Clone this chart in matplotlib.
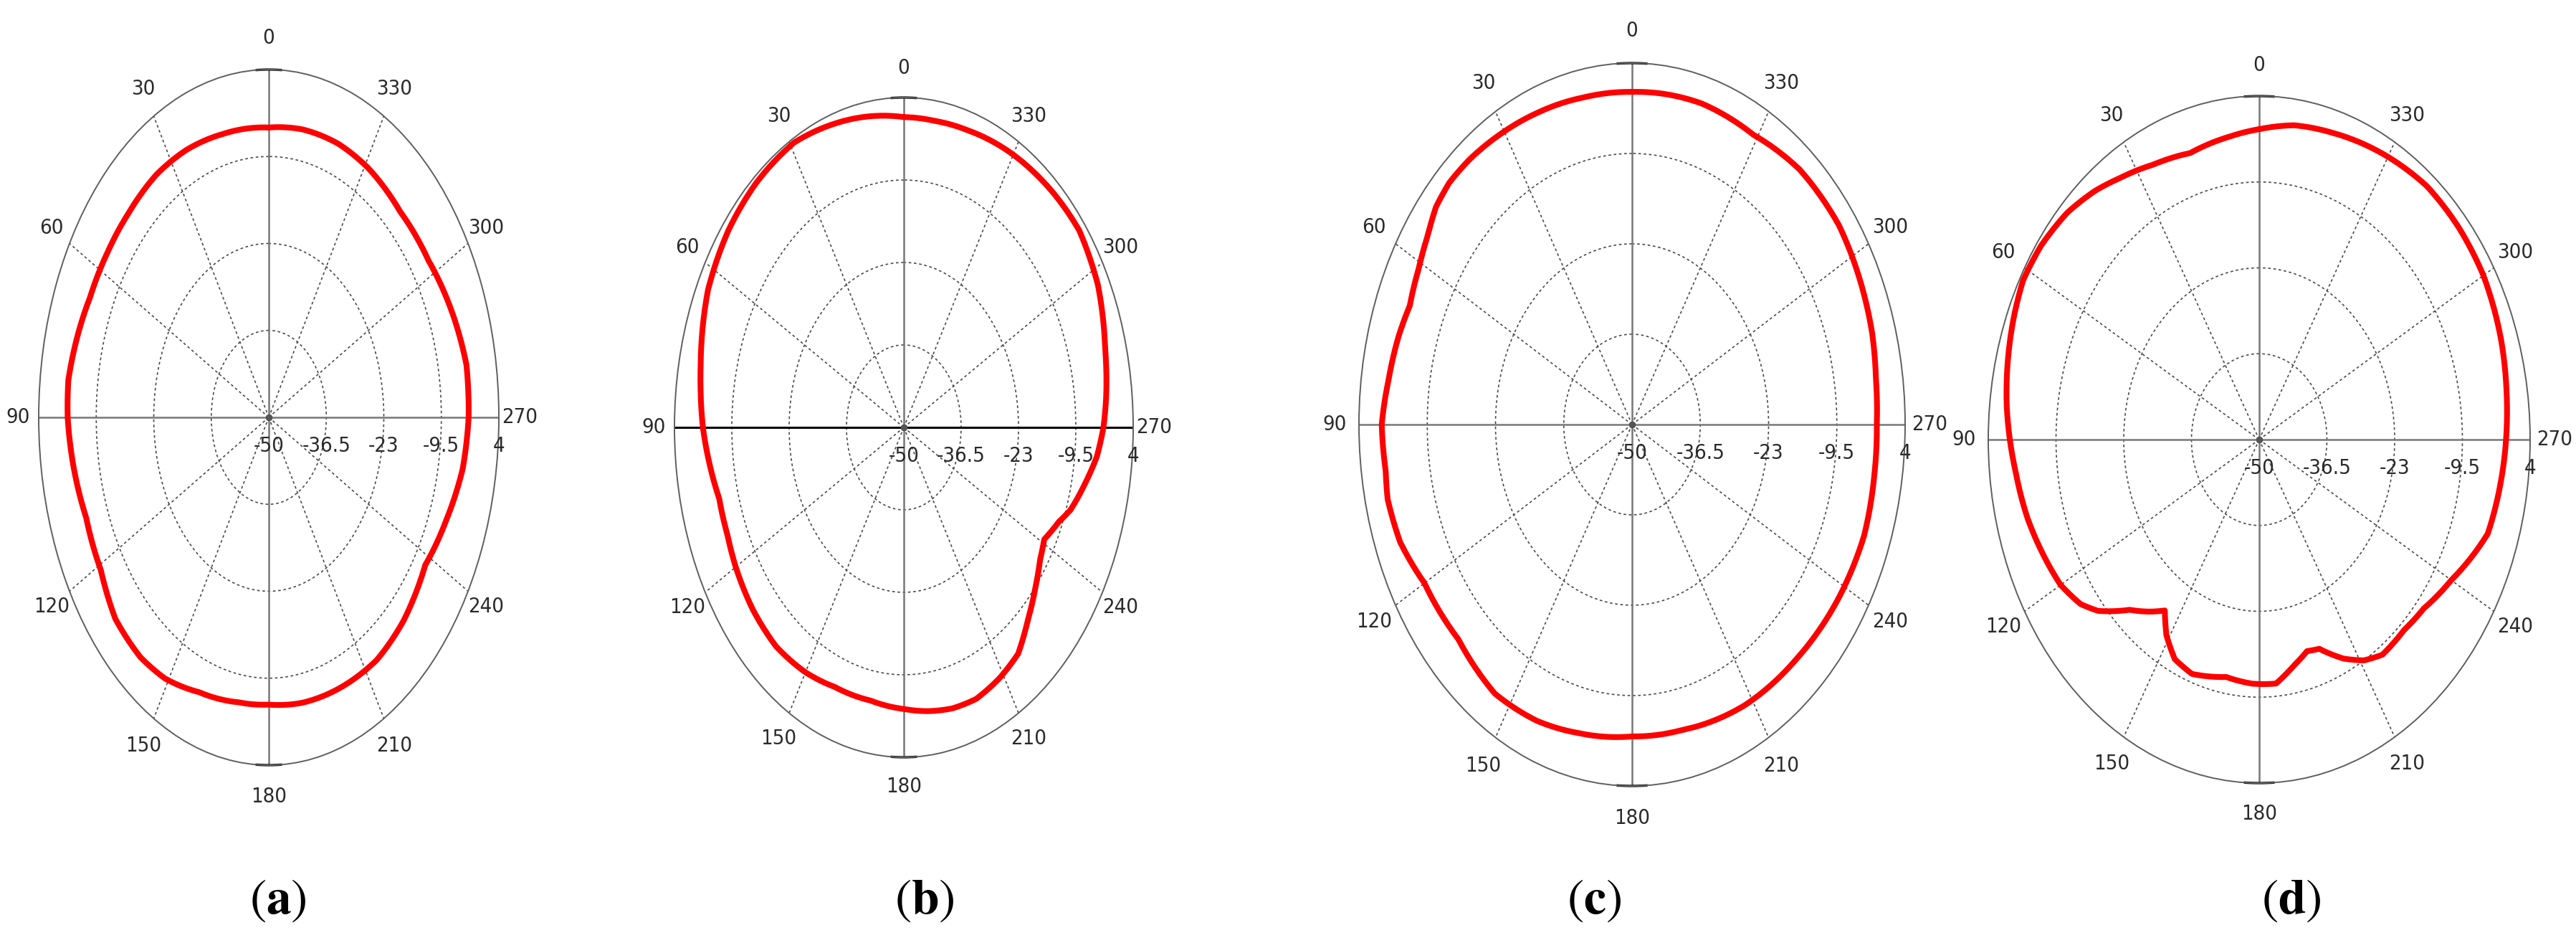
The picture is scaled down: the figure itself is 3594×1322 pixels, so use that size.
import numpy as np
import matplotlib
matplotlib.use('Agg')
import matplotlib.pyplot as plt
from matplotlib import font_manager

W, H, DPI = 3594, 1322, 100

# ---------------------------------------------------------------------------
# Data (gain in dB)
# ---------------------------------------------------------------------------
ANGLE_TICKS = [0, 30, 60, 90, 120, 150, 180, 210, 240, 270, 300, 330]
RING_VALUES = [-36.5, -23, -9.5]
R_MIN, R_MAX = -50, 4
R_TICKS = [-50, -36.5, -23, -9.5, 4]
R_LABELS = ['-50', '-36.5', '-23', '-9.5', '4']
PANEL_TAGS = ['a', 'b', 'c', 'd']

ANG_A = [0, 14, 25, 35, 46, 56, 66, 75, 83, 90, 99, 110, 121, 131, 141, 149,
         159, 171, 180, 190, 201, 214, 225, 238, 249, 260, 270, 280, 289, 303,
         316, 329, 339, 350]
GAIN_A = [-5.0, -4.7, -4.2, -4.0, -4.3, -4.3, -4.1, -3.3, -2.6, -2.8, -3.5,
          -4.4, -4.0, -2.3, -2.1, -2.7, -4.3, -5.2, -5.4, -5.0, -4.8, -4.6,
          -5.3, -6.7, -5.4, -3.8, -3.1, -2.9, -3.8, -5.3, -5.6, -4.8, -4.5,
          -4.6]

ANG_B = [0, 19, 29, 41, 52, 64, 78, 83, 90, 97, 105, 113, 120, 130, 140, 150,
         159, 170, 180, 187, 194, 201, 209, 216, 223, 230, 236, 241, 247, 251,
         258, 264, 270, 276, 285, 297, 308, 317, 331, 343, 352]
GAIN_B = [0.8, 2.4, 3.3, 3.0, 2.4, 1.3, -1.1, -1.8, -2.7, -3.8, -5.0, -4.9,
          -4.3, -3.6, -3.2, -3.7, -4.5, -4.6, -3.9, -3.2, -2.6, -2.4, -3.2,
          -4.2, -7.1, -9.5, -11.3, -12.2, -10.4, -8.5, -6.3, -4.3, -3.0, -2.1,
          -0.9, 1.3, 2.4, 2.1, 1.5, 0.9, 0.7]

ANG_C = [0, 11, 22, 31, 39, 45, 50, 55, 61, 68, 74, 82, 90, 98, 103, 111, 120,
         133, 146, 157, 167, 180, 192, 208, 223, 238, 250, 261, 270, 278, 286,
         296, 306, 319, 331, 344, 353]
GAIN_C = [-0.3, -0.2, 0.2, 0.6, 1.0, 1.1, 0.6, -0.7, -1.8, -2.6, -2.0, -1.4,
          -0.5, -0.8, -0.4, -0.9, -2.6, -3.0, -1.5, -1.9, -2.7, -3.4, -3.3,
          -2.5, -2.2, -1.6, -1.2, -1.5, -1.6, -1.3, -0.6, 0.0, 0.6, 0.5, -0.5,
          -0.1, -0.2]

ANG_D = [0, 7, 17, 26, 34, 40, 47, 55, 62, 69, 77, 84, 90, 96, 105, 112, 120,
         126, 130, 136, 141, 145, 149, 154, 160, 170, 178, 185, 191, 196, 200,
         206, 211, 216, 224, 231, 240, 252, 262, 270, 279, 288, 300, 310, 320,
         329, 343, 352]
GAIN_D = [-1.2, -2.0, -2.9, -1.9, -0.4, 1.0, 2.3, 3.1, 3.3, 2.5, 1.5, 0.6,
          -0.3, -1.2, -2.2, -3.2, -4.3, -6.0, -8.1, -12.8, -15.2, -17.2, -14.1,
          -11.6, -10.8, -12.1, -11.6, -11.5, -13.8, -15.4, -15.0, -11.7, -9.5,
          -8.2, -8.4, -7.8, -5.8, -2.1, -1.4, -0.8, -0.1, 0.7, 1.6, 1.9, 2.0,
          1.4, 0.4, -0.1]

SERIES = [(ANG_A, GAIN_A), (ANG_B, GAIN_B), (ANG_C, GAIN_C), (ANG_D, GAIN_D)]

# ---------------------------------------------------------------------------
# Layout (pixel boxes of each elliptical plot, caption centres)
# ---------------------------------------------------------------------------
BOXES = [(54, 97, 696, 1067), (941, 136, 1581, 1056),
         (1896, 88, 2658, 1096), (2774, 134, 3530, 1092)]
CAPTION_X = [388, 1290, 2224, 3197]
CAPTION_Y = 1254

names = {f.name for f in font_manager.fontManager.ttflist}
TICK_FONT = 'Liberation Sans Narrow' if 'Liberation Sans Narrow' in names else 'DejaVu Sans'
plt.rcParams['mathtext.fontset'] = 'stix'

GRID_COL = '#4a4a4a'
AXIS_COL = '#777777'
DASH = (0, (2.2, 2.2))
TXT = dict(fontsize=21, color='#2a2a2a', family=TICK_FONT,
           fontstretch='condensed', ha='center', va='center')

fig = plt.figure(figsize=(W / DPI, H / DPI), dpi=DPI)
full = np.linspace(0, 2 * np.pi, 400)

for i, (ang, gain) in enumerate(SERIES):
    x0, y0, x1, y1 = BOXES[i]
    ax = fig.add_axes([x0 / W, 1 - y1 / H, (x1 - x0) / W, (y1 - y0) / H],
                      projection='polar')
    ax.set_aspect('auto')
    ax.set_theta_zero_location('N')
    ax.set_theta_direction(1)
    ax.set_ylim(R_MIN, R_MAX)
    ax.set_xticks([])
    ax.set_yticks([])
    ax.grid(False)
    ax.spines['polar'].set_color('#5e5e5e')
    ax.spines['polar'].set_linewidth(1.4)

    # dashed rings and spokes
    for rv in RING_VALUES:
        ax.plot(full, np.full_like(full, rv), color=GRID_COL, lw=1.2, ls=DASH)
    for a in ANGLE_TICKS:
        t = np.deg2rad(a)
        if a % 90:
            ax.plot([t, t], [R_MIN, R_MAX], color=GRID_COL, lw=1.2, ls=DASH)
    # solid cross
    for a in (0, 180):
        t = np.deg2rad(a)
        ax.plot([t, t], [R_MIN, R_MAX], color=AXIS_COL, lw=1.8)
        ax.plot(np.deg2rad(np.linspace(a - 3, a + 3, 10)), np.full(10, R_MAX),
                color='#111111', lw=2.4, clip_on=False)
    hcol, hlw = ('#000000', 2.2) if i == 1 else (AXIS_COL, 1.8)
    for a in (90, 270):
        t = np.deg2rad(a)
        ax.plot([t, t], [R_MIN, R_MAX], color=hcol, lw=hlw)
    ax.plot([0], [R_MIN], marker='o', ms=6, color='#555555', zorder=4)

    # pattern, drawn as arcs between the read points
    th = np.deg2rad(np.r_[ang, ang[0] + 360])
    rr = np.r_[gain, gain[0]]
    line, = ax.plot(th, rr, color='#ff0000', lw=5.8, solid_joinstyle='round',
                    solid_capstyle='round', zorder=6, clip_on=False)
    line.get_path()._interpolation_steps = 24

    # angle labels
    r_lab = R_MIN + 1.09 * (R_MAX - R_MIN)
    for a in ANGLE_TICKS:
        ax.text(np.deg2rad(a), r_lab, str(a), **TXT)
    # radial labels under the 270 axis
    for rv, lab in zip(R_TICKS, R_LABELS):
        ax.annotate(lab, xy=(np.deg2rad(270), rv), xytext=(0, -40),
                    textcoords='offset pixels', annotation_clip=False, **TXT)

    fig.text(CAPTION_X[i] / W, 1 - CAPTION_Y / H,
             r'$(\mathbf{%s})$' % PANEL_TAGS[i], ha='center', va='center',
             fontsize=50, color='black')

fig.savefig('out.png', dpi=DPI, facecolor='white')
